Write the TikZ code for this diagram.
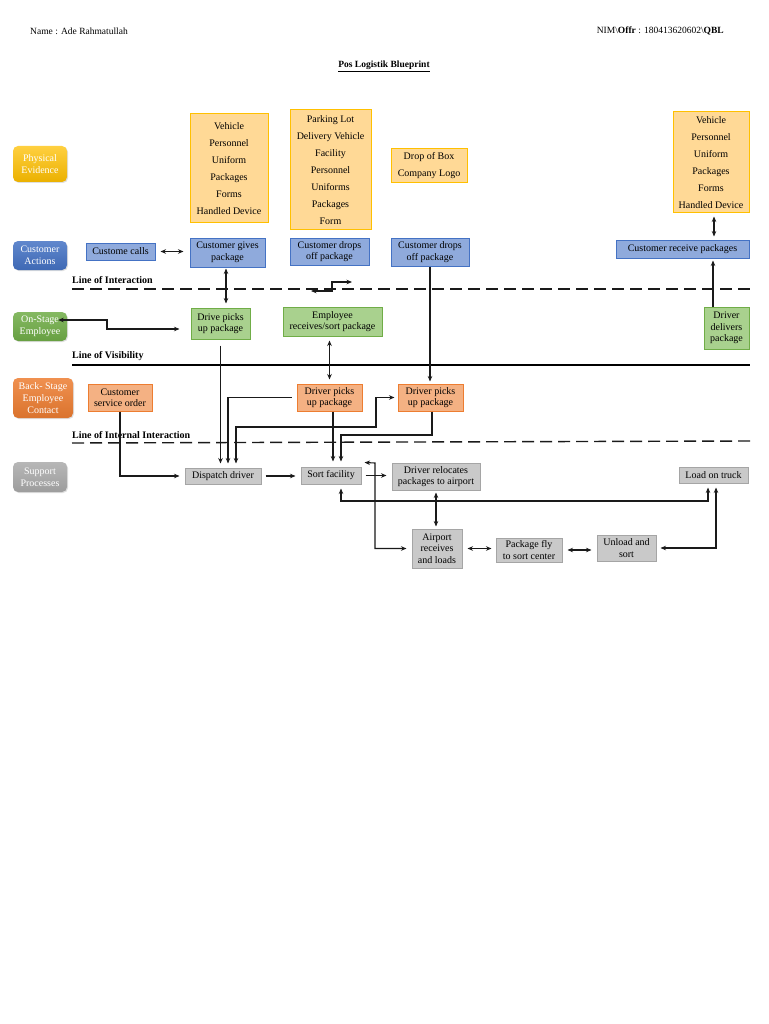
\documentclass[tikz,border=0pt]{standalone}
\usepackage{fontspec}
\setmainfont{Liberation Serif}
\usetikzlibrary{arrows.meta,shadows}
\definecolor{peFill}{HTML}{FFD996}
\definecolor{peDraw}{HTML}{FFC000}
\definecolor{caFill}{HTML}{8FAADC}
\definecolor{caDraw}{HTML}{4472C4}
\definecolor{osFill}{HTML}{A9D18E}
\definecolor{osDraw}{HTML}{70AD47}
\definecolor{bsFill}{HTML}{F4B183}
\definecolor{bsDraw}{HTML}{ED7D31}
\definecolor{spFill}{HTML}{C9C9C9}
\definecolor{spDraw}{HTML}{A5A5A5}
\definecolor{lnCol}{HTML}{1A1A1A}
\newcommand\bx[7]{\node[#2, minimum width={(#5)-(#3)}, minimum height={(#6)-(#4)}] (#1) at ({(#3+#5)/2},{(#4+#6)/2}) {#7};}
\tikzset{
  box/.style={draw, line width=1pt, inner sep=1pt, align=center, font=\fontsize{10}{11.5}\selectfont, text=black},
  pebox/.style={box, fill=peFill, draw=peDraw, font=\fontsize{10}{17}\selectfont},
  cabox/.style={box, fill=caFill, draw=caDraw},
  osbox/.style={box, fill=osFill, draw=osDraw},
  bsbox/.style={box, fill=bsFill, draw=bsDraw},
  spbox/.style={box, fill=spFill, draw=spDraw},
  lane/.style={rounded corners=5pt, draw=none, text=white, align=center, inner sep=0pt,
     font=\fontsize{10}{12}\selectfont, drop shadow={opacity=0.25, shadow xshift=1pt, shadow yshift=-1pt}},
  tip/.tip={Stealth[length=5.5pt,width=4.5pt]},
  conn/.style={line width=1.1pt, draw=lnCol, -tip},
  conntwo/.style={line width=1.1pt, draw=lnCol, tip-tip},
  lanelabel/.style={anchor=west, font=\fontsize{10}{11}\selectfont\bfseries, inner sep=0pt},
  hdr/.style={font=\fontsize{9.5}{11}\selectfont, inner sep=0pt},
}
\begin{document}
\begin{tikzpicture}[x=1pt,y=-1pt]
\useasboundingbox[fill=white] (0,0) rectangle (768,1024);

% header
\node[hdr, anchor=west] (name) at (30,31) {Name : Ade Rahmatullah};
\node[hdr, anchor=east] (nim) at (724,31) {NIM\textbackslash\textbf{Offr} : 180413620602\textbackslash\textbf{QBL}};
\node[hdr, font=\fontsize{9.5}{11}\selectfont\bfseries] (title) at (384,66) {\underline{Pos Logistik Blueprint}};

% lane labels
\bx{L1}{lane, top color=peDraw!75!white, bottom color=peDraw!92!black}{13}{146}{67}{182}{Physical\\Evidence}
\bx{L2}{lane, top color=caDraw!85!white, bottom color=caDraw!92!black}{13}{241}{67}{270}{Customer\\Actions}
\bx{L3}{lane, top color=osDraw!85!white, bottom color=osDraw!92!black}{13}{312}{67}{341}{On-Stage\\Employee}
\bx{L4}{lane, top color=bsDraw!85!white, bottom color=bsDraw!92!black}{13}{378}{73}{418}{Back- Stage\\Employee\\Contact}
\bx{L5}{lane, top color=spDraw!80!white, bottom color=spDraw!95!black}{13}{462}{67}{492}{Support\\Processes}

% separator lines
\draw[line width=1.4pt, draw=lnCol, dash pattern=on 12pt off 6pt] (72,289) coordinate (li1) -- (750,289) coordinate (li2);
\draw[line width=1.3pt, draw=black] (72,365) coordinate (lv1) -- (750,365) coordinate (lv2);
\draw[line width=1.4pt, draw=lnCol, dash pattern=on 12pt off 6pt] (72,443) coordinate (lii1) -- (750,441) coordinate (lii2);
\node[lanelabel] (tLI) at (72,280) {Line of Interaction};
\node[lanelabel] (tLV) at (72,356) {Line of Visibility};
\node[lanelabel] (tLII) at (72,435) {Line of Internal Interaction};

% physical evidence
\bx{PE1}{pebox}{190}{114}{268}{223}{Vehicle\\Personnel\\Uniform\\Packages\\Forms\\Handled Device}
\bx{PE2}{pebox}{290}{110}{371}{230}{Parking Lot\\Delivery Vehicle\\Facility\\Personnel\\Uniforms\\Packages\\Form}
\bx{PE3}{pebox}{391}{149}{467}{183}{Drop of Box\\Company Logo}
\bx{PE4}{pebox}{673}{112}{749}{213}{Vehicle\\Personnel\\Uniform\\Packages\\Forms\\Handled Device}

% customer actions
\bx{CA1}{cabox}{86}{243}{155}{260}{Custome calls}
\bx{CA2}{cabox}{190}{238}{265}{267}{Customer gives\\package}
\bx{CA3}{cabox}{290}{238}{369}{265}{Customer drops\\off package}
\bx{CA4}{cabox}{391}{238}{469}{266}{Customer drops\\off package}
\bx{CA5}{cabox}{616}{240}{749}{258}{Customer receive packages}

% on-stage
\bx{OS1}{osbox}{191}{308}{250}{339}{Drive picks\\up package}
\bx{OS2}{osbox}{283}{307}{382}{336}{Employee\\receives/sort package}
\bx{OS3}{osbox}{704}{307}{749}{349}{Driver\\delivers\\package}

% back-stage
\bx{BS1}{bsbox}{88}{384}{152}{411}{Customer\\service order}
\bx{BS2}{bsbox}{297}{384}{362}{411}{Driver picks\\up package}
\bx{BS3}{bsbox}{398}{384}{463}{411}{Driver picks\\up package}

% support
\bx{SP1}{spbox}{185}{468}{261}{484}{Dispatch driver}
\bx{SP2}{spbox}{301}{467}{361}{484}{Sort facility}
\bx{SP3}{spbox}{392}{463}{480}{490}{Driver relocates\\packages to airport}
\bx{SP4}{spbox}{679}{467}{748}{483}{Load on truck}
\bx{SP5}{spbox}{412}{529}{462}{568}{Airport\\receives\\and loads}
\bx{SP6}{spbox}{496}{538}{562}{562}{Package fly\\to sort center}
\bx{SP7}{spbox}{597}{535}{656}{561}{Unload and\\sort}

% helper coordinates
\coordinate (d1) at (107,320);
\coordinate (d2) at (107,329);
\coordinate (w1) at (311,291);
\coordinate (w2) at (332,291);
\coordinate (w3) at (332,282);
\coordinate (w4) at (352,282);
\coordinate (j1) at (228,397.5);
\coordinate (k1) at (236,427);
\coordinate (k2) at (376,427);
\coordinate (k3) at (376,397.5);
\coordinate (p1) at (432,435);
\coordinate (p2) at (341,435);
\coordinate (q1) at (341,501);
\coordinate (q2) at (708,501);
\coordinate (r1) at (716,548);
\coordinate (s1) at (375,463);

% connectors
\draw[conntwo, shorten <=5pt, shorten >=6pt] (CA1.east) -- (CA1.east -| CA2.west);
\draw[conntwo, shorten <=3pt, shorten >=3pt] ([xshift=3pt]PE4.south) -- ([xshift=3pt]PE4.south |- CA5.north);
\draw[conntwo, shorten <=1pt, shorten >=4pt] ([xshift=-1.5pt]CA2.south) -- ([xshift=-1.5pt]CA2.south |- OS1.north);
\draw[conntwo, shorten >=11pt] ([xshift=-9pt,yshift=6.5pt]L3.east) -- (d1) -- (d2) -- (d2 -| OS1.west);
\draw[conntwo, shorten <=4pt, shorten >=4pt] (OS2.south -| BS2.north) -- (BS2.north);
\draw[conn, shorten >=2pt] (CA4.south) -- (CA4.south |- BS3.north);
\draw[conn, shorten >=2pt] ([xshift=-13.5pt]OS3.north) -- ([xshift=-13.5pt]OS3.north |- CA5.south);
\draw[conntwo] (w1) -- (w2) -- (w3) -- (w4);
\draw[conn, shorten <=6pt, shorten >=4pt] (OS1.south) -- (OS1.south |- SP1.north);
\draw[conn, shorten <=5pt, shorten >=4pt] (BS2.west) -- (j1) -- (j1 |- SP1.north);
\draw[conntwo, shorten <=4pt, shorten >=3pt] (k1 |- SP1.north) -- (k1) -- (k2) -- (k3) -- (k3 -| BS3.west);
\draw[conn, shorten >=5pt] (BS1.south) -- (BS1.south |- SP1.west) -- (SP1.west);
\draw[conn, shorten <=4pt, shorten >=5pt] (SP1.east) -- (SP1.east -| SP2.west);
\draw[conn, shorten <=4pt, shorten >=5pt] (SP2.east) -- (SP2.east -| SP3.west);
\draw[conn, shorten >=5pt] ([xshift=3.5pt]BS2.south) -- ([xshift=3.5pt]BS2.south |- SP2.north);
\draw[conn, shorten >=5pt] ([xshift=1.5pt]BS3.south) -- (p1) -- (p2) -- (p2 |- SP2.north);
\draw[conntwo, shorten <=4pt, shorten >=4pt] (q1 |- SP2.south) -- (q1) -- (q2) -- (q2 |- SP4.south);
\draw[conntwo, shorten <=4pt, shorten >=4pt] (SP7.east) -- (r1) -- (r1 |- SP4.south);
\draw[conntwo, shorten >=5pt] ([xshift=3pt,yshift=4pt]SP2.north east) -- (s1) -- (s1 |- SP5.west) -- (SP5.west);
\draw[conntwo, shorten <=2pt, shorten >=2pt] (SP3.south) -- (SP3.south |- SP5.north);
\draw[conntwo, shorten <=5pt, shorten >=4pt] (SP5.east) -- (SP5.east -| SP6.west);
\draw[conntwo, shorten <=5pt, shorten >=5pt] (SP6.east) -- (SP6.east -| SP7.west);
\end{tikzpicture}
\end{document}
